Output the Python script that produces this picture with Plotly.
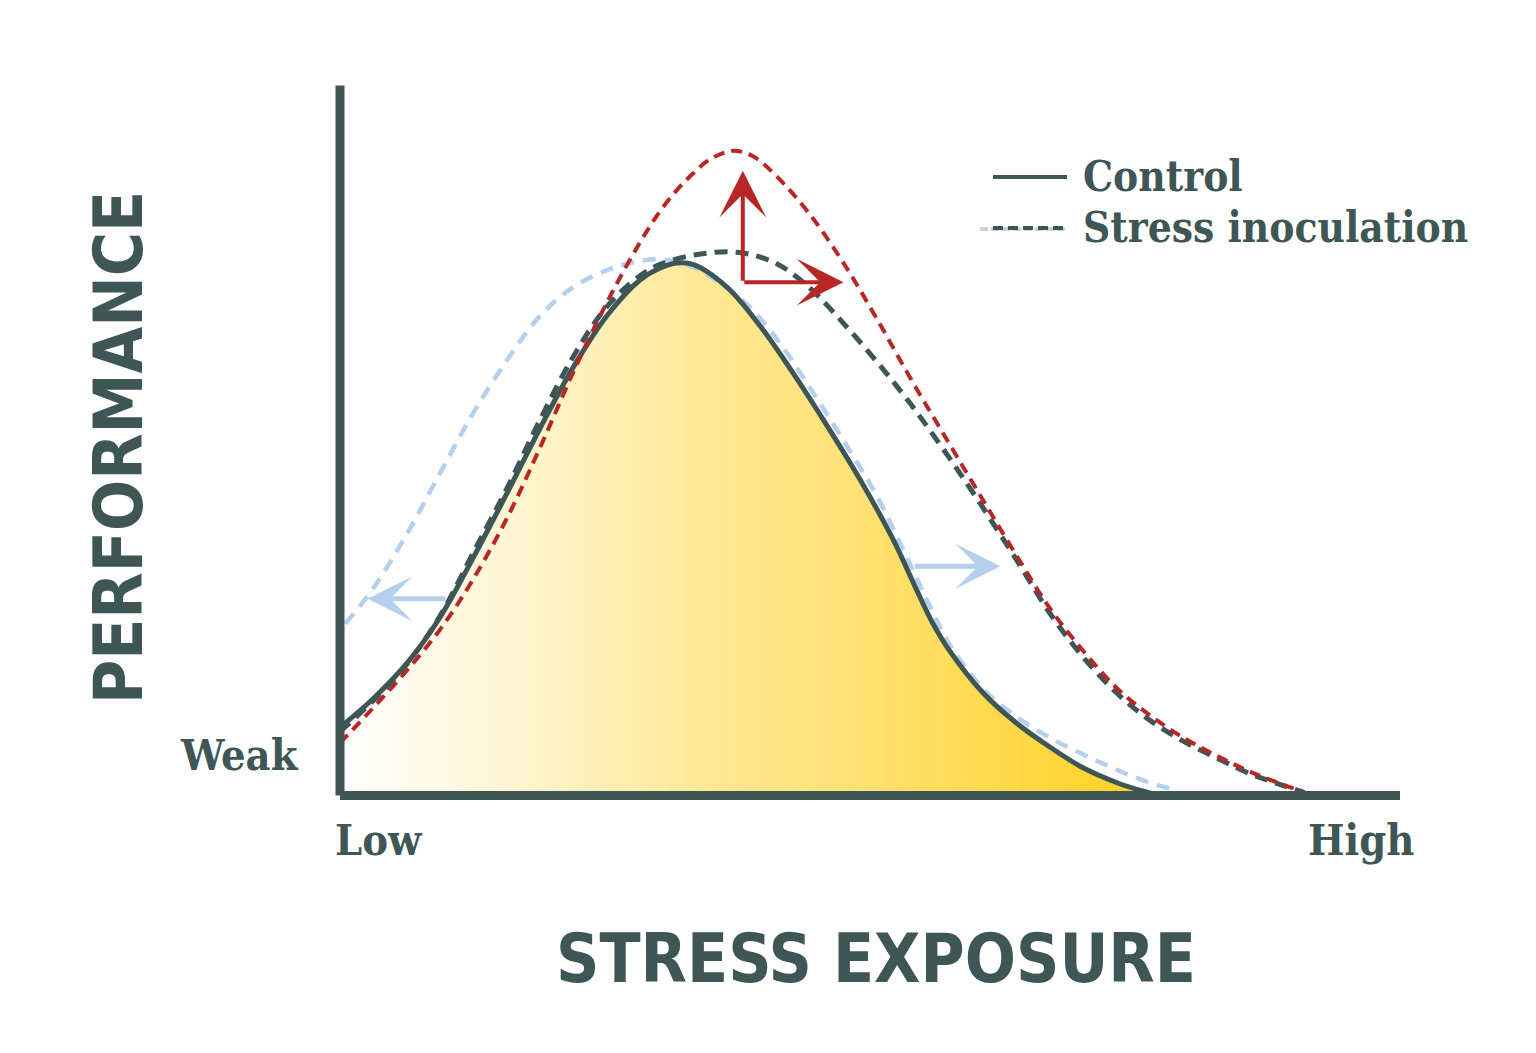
import plotly.graph_objects as go

# stress exposure runs 0 (low) -> 100 (high), performance 0 (weak) -> 100
control_x = [0, 3.1, 6.3, 9.4, 12.5, 15.8, 18.9, 22.0, 25.2, 28.3, 30.2, 31.8, 33.3,
             36.5, 39.6, 42.7, 45.9, 49.1, 52.2, 54.2, 55.8, 57.5, 60.7, 63.9, 67.0,
             70.1, 73.3, 75.8, 77.4]
control_y = [9.6, 13.6, 18.6, 25.0, 33.3, 42.7, 51.8, 60.3, 67.6, 72.6, 74.3, 75.0, 74.8,
             71.6, 66.2, 59.6, 52.2, 44.4, 36.0, 29.6, 24.6, 20.4, 14.4, 10.1, 6.8,
             3.9, 1.8, 0.6, 0]

inoculation_x = [0, 3.1, 6.3, 9.4, 12.5, 15.8, 18.9, 22.0, 25.2, 28.3, 30.2, 33.3, 37.5,
                 41.2, 44.3, 47.5, 50.7, 53.8, 56.9, 60.1, 63.9, 67.0, 70.1, 73.3,
                 76.4, 79.5, 82.7, 85.8, 89.0, 91.0]
inoculation_y = [9.0, 13.3, 18.5, 25.2, 34.0, 43.4, 53.0, 61.8, 68.9, 73.2, 74.8, 76.1, 76.5,
                 74.9, 71.5, 66.5, 61.0, 55.2, 48.8, 41.8, 33.0, 25.6, 19.5, 14.4,
                 10.6, 7.7, 5.3, 3.1, 1.4, 0.4]

# higher peak (red) and wider range (light blue) variants
higher_x = [0, 3.1, 6.3, 9.4, 12.5, 15.8, 18.9, 22.0, 25.2, 28.3, 30.2, 31.8, 33.3, 34.9,
            37.1, 39.0, 41.2, 44.3, 47.5, 50.7, 53.8, 56.9, 60.1, 63.9, 67.0, 70.1,
            73.3, 76.4, 79.5, 82.7, 85.8, 89.0, 90.8]
higher_y = [7.4, 12.3, 17.6, 23.3, 30.3, 39.2, 49.1, 59.6, 69.5, 77.9, 82.3, 85.3, 87.6, 89.6,
            90.8, 90.0, 87.2, 81.9, 75.0, 67.0, 58.8, 51.0, 43.0, 33.6, 26.3, 20.4,
            15.1, 11.3, 8.2, 5.6, 3.4, 1.5, 0.6]

wider_x = [0.5, 3.1, 6.3, 9.4, 12.5, 15.8, 18.9, 22.0, 25.2, 27.4, 30.2, 33.3, 38.0,
           41.2, 44.3, 47.5, 50.7, 53.8, 55.7, 57.5, 60.7, 63.9, 67.0, 70.1, 73.3,
           76.4, 79.0]
wider_y = [24.2, 29.1, 36.8, 45.3, 53.7, 61.4, 67.6, 71.6, 74.0, 75.0, 75.5, 74.4, 69.7,
           64.3, 57.5, 50.0, 42.0, 32.5, 26.5, 21.3, 15.0, 11.0, 8.1, 5.8, 3.6,
           1.8, 0.7]

# shift arrows: (tail x, tail y, head x, head y)
red_arrows = [(38.0, 72.3, 38.0, 88.0), (38.0, 72.3, 47.5, 72.3)]
blue_arrows = [(10.1, 27.7, 2.6, 27.7), (54.1, 32.3, 62.3, 32.3)]

DARK = "#3e5655"
RED = "#b82626"
BLUE = "#b5d0ec"
SERIF = "DejaVu Serif Condensed, DejaVu Serif, serif"
NARROW = "DejaVu Sans Condensed, DejaVu Sans, sans-serif"

W, H = 1536, 1053
L, R, T, B = 279, 91, 42, 230
OFF = 8  # page margin the browser puts round the figure


def px(x):
    return (x - OFF - L) / (W - L - R)


def py(y):
    return 1 - (y - OFF - T) / (H - T - B)


fig = go.Figure()

fig.add_trace(go.Scatter(
    x=control_x, y=control_y, mode="none", fill="tozeroy", line_shape="spline",
    fillgradient=dict(type="horizontal", colorscale=[
        [0, "#ffffff"], [0.25, "#fff3c8"], [0.45, "#ffe894"],
        [0.65, "#ffe070"], [0.85, "#ffd840"], [1, "#fdd01e"]]),
))
fig.add_trace(go.Scatter(x=wider_x, y=wider_y, mode="lines", line_shape="spline",
                         line=dict(color=BLUE, width=4.5, dash="13px,9px")))
fig.add_trace(go.Scatter(x=control_x, y=control_y, mode="lines", line_shape="spline",
                         line=dict(color=DARK, width=5)))
fig.add_trace(go.Scatter(x=inoculation_x, y=inoculation_y, mode="lines", line_shape="spline",
                         line=dict(color=DARK, width=5, dash="13px,8px")))
fig.add_trace(go.Scatter(x=higher_x, y=higher_y, mode="lines", line_shape="spline",
                         line=dict(color=RED, width=4, dash="11px,7px")))

for tx, ty, hx, hy in red_arrows:
    fig.add_annotation(x=hx, y=hy, ax=tx, ay=ty, xref="x", yref="y", axref="x", ayref="y",
                       text="", showarrow=True, arrowhead=3, arrowsize=1.95,
                       arrowwidth=4, arrowcolor=RED)
for tx, ty, hx, hy in blue_arrows:
    fig.add_annotation(x=hx, y=hy, ax=tx, ay=ty, xref="x", yref="y", axref="x", ayref="y",
                       text="", showarrow=True, arrowhead=3, arrowsize=1.5,
                       arrowwidth=5, arrowcolor=BLUE)

# axis lines
fig.add_shape(type="line", x0=0, y0=0, x1=0, y1=100, line=dict(color=DARK, width=9))
fig.add_shape(type="line", x0=0, y0=0, x1=100, y1=0, line=dict(color=DARK, width=9))

# legend
fig.add_shape(type="line", xref="paper", yref="paper", x0=px(993), x1=px(1067),
              y0=py(177), y1=py(177), line=dict(color=DARK, width=4))
fig.add_shape(type="line", xref="paper", yref="paper", x0=px(980), x1=px(1067),
              y0=py(229), y1=py(229), line=dict(color="#c8d4de", width=4, dash="8px,3px"))
fig.add_shape(type="line", xref="paper", yref="paper", x0=px(993), x1=px(1067),
              y0=py(228), y1=py(228), line=dict(color=DARK, width=4, dash="10px,5px"))


def label(text, x, y, size, family=SERIF, xanchor="left", angle=0):
    fig.add_annotation(text=text, x=px(x), y=py(y), xref="paper", yref="paper",
                       showarrow=False, xanchor=xanchor, yanchor="middle", textangle=angle,
                       font=dict(family=family, size=size, color=DARK, weight="bold"))


label("Control", 1081, 176, 42)
label("Stress inoculation", 1081, 227, 42)
label("Weak", 301, 755, 43, xanchor="right")
label("Low", 333, 840, 43)
label("High", 1416, 840, 43, xanchor="right")
label("STRESS EXPOSURE", 876, 959, 67, family=NARROW, xanchor="center")
label("PERFORMANCE", 119, 447, 67, family=NARROW, xanchor="center", angle=-90)

fig.update_layout(
    width=W, height=H, margin=dict(l=L, r=R, t=T, b=B),
    paper_bgcolor="white", plot_bgcolor="white", showlegend=False,
    xaxis=dict(range=[-5, 105], visible=False, fixedrange=True),
    yaxis=dict(range=[-5, 105], visible=False, fixedrange=True),
)
fig.write_html("out.html")
